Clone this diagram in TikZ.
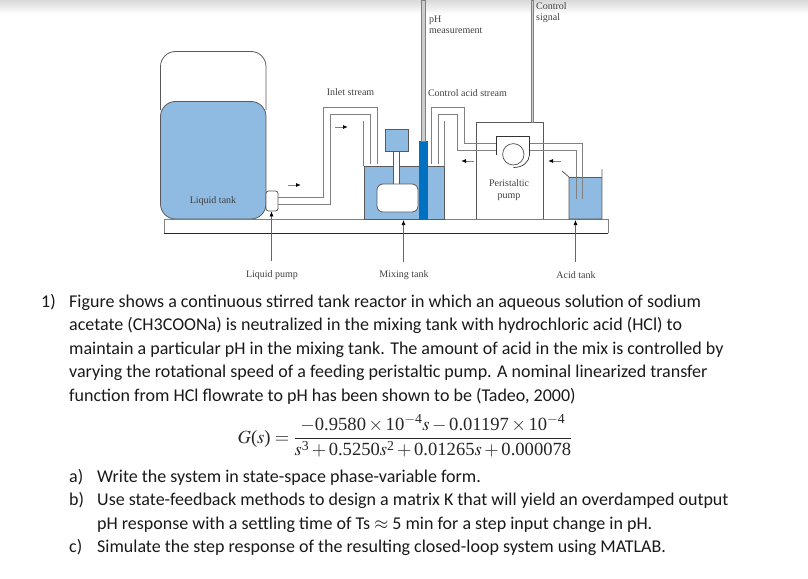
\documentclass[tikz,border=0pt]{standalone}
\usepackage{amsmath}
\usepackage{mathptmx}
\usepackage[no-math]{fontspec}
\setmainfont{Carlito}
\newfontfamily\labelfont{Liberation Serif}
\newcommand{\num}[1]{\text{\labelfont #1}}
\definecolor{liquid}{HTML}{8FBBE3}
\definecolor{probe}{HTML}{0070C0}
\usetikzlibrary{arrows.meta}
\tikzset{
    pipe/.style={draw=black!50, line width=0.9pt},
    wall/.style={draw=black!65, line width=0.8pt},
    tag/.style={font=\labelfont\fontsize{10}{11.5}\selectfont, text=black!75, inner sep=0pt, align=left},
    para/.style={font=\fontsize{18}{20}\selectfont, text=black!90, anchor=base west, inner sep=0pt},
    leader/.style={draw=black!60, line width=0.7pt, -{Latex[length=5pt,width=4pt,black]}},
    flow/.style={draw=black!50, line width=1pt, -{Latex[length=5pt,width=4pt,black]}}
}
\begin{document}
\begin{tikzpicture}[x=1pt, y=-1pt]
    \useasboundingbox (0,0) rectangle (808,578);
    \shade[top color=black!15, bottom color=white] (0,0) rectangle (808,14);

    % liquid tank
    \draw[wall] (160.5,110) -- (160.5,68) [rounded corners=15pt] -- (160.5,51.5) -- (266,51.5) -- (266,110);
    \draw[wall, fill=liquid, rounded corners=15pt] (160.5,101.5) rectangle (266,219);
    \node[tag] (liquidtank) at (213,201) {Liquid tank};

    % base
    \draw[pipe] (164,233) -- (164,219) -- (608,219) -- (608,233);
    \draw[black!85, line width=0.8pt] (164,233) -- (608,233);

    % mixing tank
    \draw[wall, fill=liquid] (364,166) rectangle (444,219);
    \draw[pipe] (363.7,166) -- (363.7,121);
    \draw[pipe] (444,166) -- (444,121);
    \draw[wall, fill=liquid] (385,129) rectangle (408,151);
    \draw[wall, fill=white] (393,151) rectangle (399.5,185);
    \draw[wall, fill=white, rounded corners=6pt] (377,184) rectangle (418,212);
    \draw[black!65, fill=probe, line width=0.6pt] (419.5,141) rectangle (427,219);
    \draw[pipe, fill=black!20] (421.5,0) rectangle (425,141);

    % inlet stream
    \node[draw=black!65, fill=white, line width=0.8pt, rounded corners=2.5pt, minimum width=12pt, minimum height=20pt, inner sep=0pt] (liquidpump) at (272,201) {};
    \draw[pipe] (liquidpump.east |- 0,197) -- (323.5,197) -- (323.5,107) -- (377,107) -- (377,164);
    \draw[pipe] (liquidpump.east |- 0,204) -- (330.5,204) -- (330.5,114) -- (370,114) -- (370,164);
    \draw[flow] (288,185) -- (301,185);
    \draw[flow] (335,127) -- (348,127);

    % peristaltic pump
    \draw[wall] (476.5,219) -- (476.5,122) -- (543.5,122) -- (543.5,219);
    \draw[pipe, fill=black!20] (531,0) rectangle (533.8,122);
    \draw[pipe] (431,164) -- (431,107) -- (464,107) -- (464,143) -- (496,143);
    \draw[pipe] (438,164) -- (438,114) -- (457,114) -- (457,150) -- (496,150);
    \draw[black!80, line width=0.8pt] (496.3,155) -- (496.3,136) -- (529.5,136) -- (529.5,155);
    \draw[black!70, line width=0.7pt] (513.3,154.3) circle (10.7);
    \draw[black!80, line width=0.7pt] (529.5,155) .. controls (529,162) and (523,167.5) .. (513.5,167.5);
    \draw[pipe] (530,143) -- (582.5,143) -- (582.5,199);
    \draw[pipe] (530,150) -- (576,150) -- (576,199);
    \draw[flow] (474,161) -- (461,161);
    \draw[flow] (561,161) -- (548,161);
    \node[tag, align=center] (peristaltic) at (509,190) {Peristaltic\\pump};

    % acid tank
    \fill[liquid] (569,177) rectangle (602,219);
    \draw[wall] (562,171) -- (569,177) -- (569,219) -- (602,219) -- (602,169);
    \draw[wall] (569,177) -- (602,177);
    \draw[pipe] (576,177) -- (576,199);
    \draw[pipe] (582.5,177) -- (582.5,199);

    % labels
    \node[tag] (inletstream) at (350.5,92.5) {Inlet stream};
    \node[tag] (acidstream) at (467.5,93) {Control acid stream};
    \node[tag, anchor=west] (phlabel) at (429,25) {pH\\measurement};
    \node[tag, anchor=west] (signal) at (536,12.5) {Control\\signal};
    \node[tag] (pumplabel) at (272,275.5) {Liquid pump};
    \node[tag] (mixlabel) at (404,275.5) {Mixing tank};
    \node[tag] (acidlabel) at (576,275.5) {Acid tank};
    \coordinate (mixfoot) at (403.5,220);
    \coordinate (acidfoot) at (575.5,220);
    \draw[leader] (271.5,261) -- (liquidpump.south -| 271.5,0);
    \draw[leader] (403.5,262) -- (mixfoot);
    \draw[leader] (575.5,262) -- (acidfoot);

    % question text
    \node[para] (num1) at (41,307) {1)};
    \node[para] (line1) at (69,307) {Figure shows a continuous stirred tank reactor in which an aqueous solution of sodium};
    \node[para] (line2) at (69,330.5) {acetate (CH3COONa) is neutralized in the mixing tank with hydrochloric acid (HCl) to};
    \node[para] (line3) at (69,354) {maintain a particular pH in the mixing tank. The amount of acid in the mix is controlled by};
    \node[para] (line4) at (69,377.5) {varying the rotational speed of a feeding peristaltic pump. A nominal linearized transfer};
    \node[para] (line5) at (69,401) {function from HCl flowrate to pH has been shown to be (Tadeo, 2000)};
    \node[inner sep=0pt, font=\fontsize{18.6}{21}\selectfont, text=black!85] (gofs) at (405,436)
        {$\displaystyle G\num{(}s\num{)}=\frac{-\num{0.9580}\times \num{10}^{-\num{4}}s-\num{0.01197}\times \num{10}^{-\num{4}}}{s^{\num{3}}+\num{0.5250}s^{\num{2}}+\num{0.01265}s+\num{0.000078}}$};
    \node[para] (numa) at (69,482) {a)};
    \node[para] (parta) at (97,482) {Write the system in state-space phase-variable form.};
    \node[para] (numb) at (69,505.5) {b)};
    \node[para] (partb) at (97,505.5) {Use state-feedback methods to design a matrix K that will yield an overdamped output};
    \node[para] (partb2) at (97,529) {pH response with a settling time of Ts $\approx$ 5 min for a step input change in pH.};
    \node[para] (numc) at (69,552.5) {c)};
    \node[para] (partc) at (97,552.5) {Simulate the step response of the resulting closed-loop system using MATLAB.};
\end{tikzpicture}
\end{document}
